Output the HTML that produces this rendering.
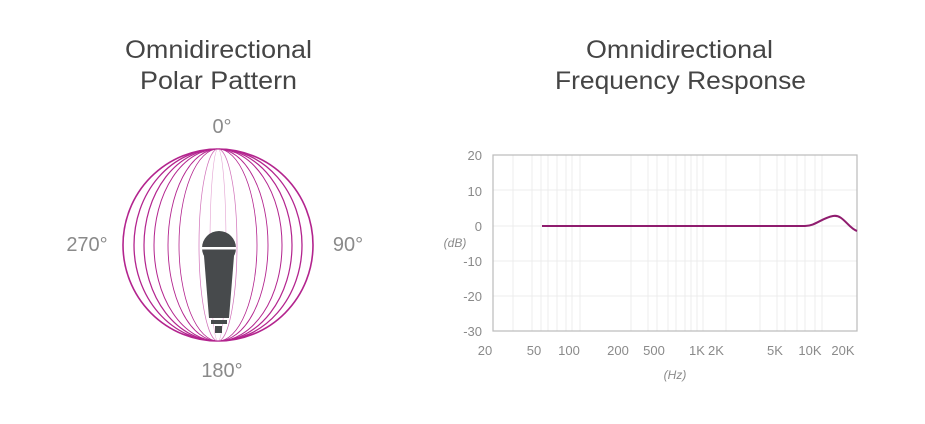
<!DOCTYPE html>
<html><head><style>
body{margin:0;background:#fff;width:925px;height:419px;overflow:hidden;font-family:"Liberation Sans",sans-serif}
</style></head><body>
<svg width="925" height="419" xmlns="http://www.w3.org/2000/svg" font-family="Liberation Sans, sans-serif">
<g fill="#454545" font-size="25">
<text x="125" y="58" textLength="187" lengthAdjust="spacingAndGlyphs">Omnidirectional</text>
<text x="140" y="89" textLength="157" lengthAdjust="spacingAndGlyphs">Polar Pattern</text>
<text x="586" y="58" textLength="187" lengthAdjust="spacingAndGlyphs">Omnidirectional</text>
<text x="555" y="89" textLength="251" lengthAdjust="spacingAndGlyphs">Frequency Response</text>
</g>
<g fill="#8a8a8a" font-size="20" text-anchor="middle">
<text x="222" y="133">0°</text>
<text x="222" y="377">180°</text>
<text x="87" y="251">270°</text>
<text x="348" y="251">90°</text>
</g>
<g fill="none" stroke="#b3248e">
<ellipse cx="218" cy="245" rx="95" ry="96" stroke-width="1.6"/>
<ellipse cx="218" cy="245" rx="84" ry="96" stroke-width="1.3"/>
<ellipse cx="218" cy="245" rx="74" ry="96" stroke-width="1.2"/>
<ellipse cx="218" cy="245" rx="64" ry="96" stroke-width="1"/>
<ellipse cx="218" cy="245" rx="50" ry="96" stroke-width="0.9"/>
<ellipse cx="218" cy="245" rx="39" ry="96" stroke-width="0.8"/>
<ellipse cx="218" cy="245" rx="19" ry="96" stroke-width="0.7" stroke="#d070b8"/>
<ellipse cx="218" cy="245" rx="8" ry="96" stroke-width="0.6" stroke="#e2a0d0"/>
</g>
<g fill="#474a4c">
<circle cx="219" cy="248" r="17"/>
<path d="M204 256 L234 256 L229 318 L209 318 Z"/>
<rect x="211" y="320" width="16" height="4"/>
<rect x="215" y="326" width="7" height="7"/>
</g>
<rect x="202" y="247" width="34" height="2.5" fill="#fff"/>
<g stroke="#ececec" stroke-width="1">
<path d="M513 155V331M532 155V331M541 155V331M548 155V331M557 155V331M566 155V331M572 155V331M580 155V331M631 155V331M648 155V331M657 155V331M668 155V331M676 155V331M685 155V331M691 155V331M697 155V331M703 155V331M726 155V331M760 155V331M777 155V331M785 155V331M797 155V331M805 155V331M815 155V331M822 155V331"/>
<path d="M493 190H857M493 226H857M493 261H857M493 296H857"/>
</g>
<rect x="493" y="155" width="364" height="176" fill="none" stroke="#bbb" stroke-width="1.2"/>
<path d="M542 226 H805 C815 226 822 218 833 216 C843 214 848 228 857 231" fill="none" stroke="#8f1c6e" stroke-width="2"/>
<g fill="#8a8a8a" font-size="13" text-anchor="end">
<text x="482" y="160">20</text>
<text x="482" y="196">10</text>
<text x="482" y="231">0</text>
<text x="482" y="266">-10</text>
<text x="482" y="301">-20</text>
<text x="482" y="336">-30</text>
</g>
<text x="455" y="247" fill="#8a8a8a" font-size="12" font-style="italic" text-anchor="middle">(dB)</text>
<g fill="#8a8a8a" font-size="13" text-anchor="middle">
<text x="485" y="355">20</text>
<text x="534" y="355">50</text>
<text x="569" y="355">100</text>
<text x="618" y="355">200</text>
<text x="654" y="355">500</text>
<text x="697" y="355">1K</text>
<text x="716" y="355">2K</text>
<text x="775" y="355">5K</text>
<text x="810" y="355">10K</text>
<text x="843" y="355">20K</text>
</g>
<text x="675" y="379" fill="#8a8a8a" font-size="12" font-style="italic" text-anchor="middle">(Hz)</text>
</svg>
</body></html>
